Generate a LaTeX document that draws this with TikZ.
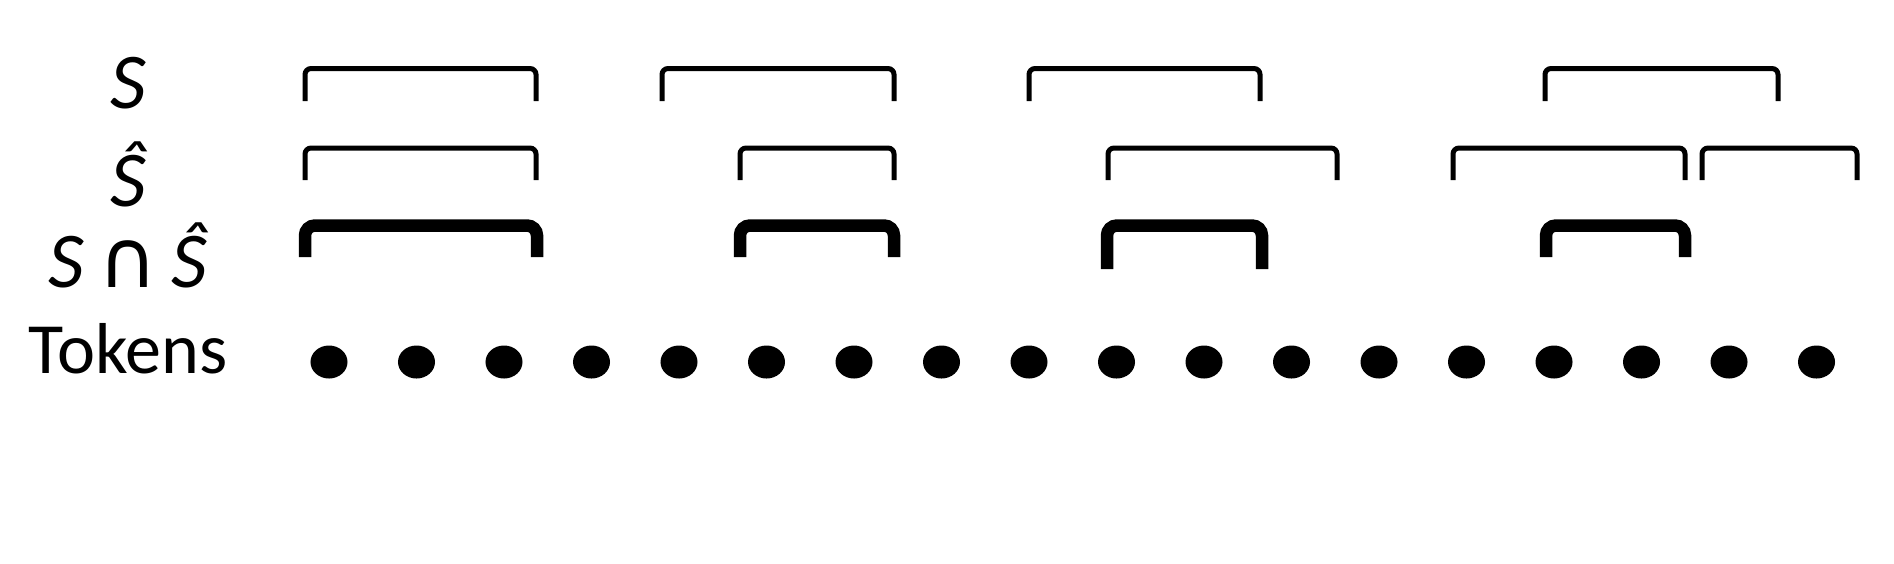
\documentclass[tikz,border=0pt]{standalone}
\usepackage{fontspec}
\setmainfont{Carlito}
\newfontfamily\symfont{DejaVu Sans}
\usetikzlibrary{shapes.geometric}
\usetikzlibrary{positioning}

\begin{document}
\begin{tikzpicture}[x=0.01cm, y=-0.01cm,
every node/.style={inner sep=0pt, outer sep=0pt},
lbl/.style={anchor=base, font=\fontsize{22.5pt}{26pt}\selectfont\itshape},
thinbr/.style={draw, line width=0.05cm, rounded corners=0.06cm},
thickbr/.style={draw, line width=0.125cm, rounded corners=0.1cm},
tok/.style={ellipse, fill=black, minimum width=0.37cm, minimum height=0.33cm}]
\useasboundingbox (0,0) rectangle (1894,563);
% row labels
\node[lbl] (sset) at (128,108) {S};
\node[lbl] (shat) at (128,206) {Ŝ};
\node[lbl] (both) at (128,287) {S\hspace{0.18em}{\symfont\upshape\fontsize{23pt}{26pt}\selectfont ∩}\hspace{0.18em}Ŝ};
\node[anchor=base, font=\fontsize{20.5pt}{24pt}\selectfont] (toklbl) at (128,373) {Tokens};
% tokens
\foreach \i in {0, 1, ..., 17}{
\node[tok] (t\i) at (329+87.5*\i,362){};}
% S
\foreach \a/\b in {305/536, 662/894, 1029/1260, 1545/1778}{
\draw[thinbr] (\a,101) |- (\b,68.5) -- (\b,101);}
% S hat
\foreach \a/\b in {305/536, 740/894, 1108/1337, 1453/1685, 1702/1857}{
\draw[thinbr] (\a,180) |- (\b,148) -- (\b,180);}
% S cap S hat
\foreach \a/\b/\c in {305/537/257, 740/894/257, 1107/1262/269, 1546/1685/257}{
\draw[thickbr] (\a,\c) |- (\b,225.5) -- (\b,\c);}
\end{tikzpicture}
\end{document}
